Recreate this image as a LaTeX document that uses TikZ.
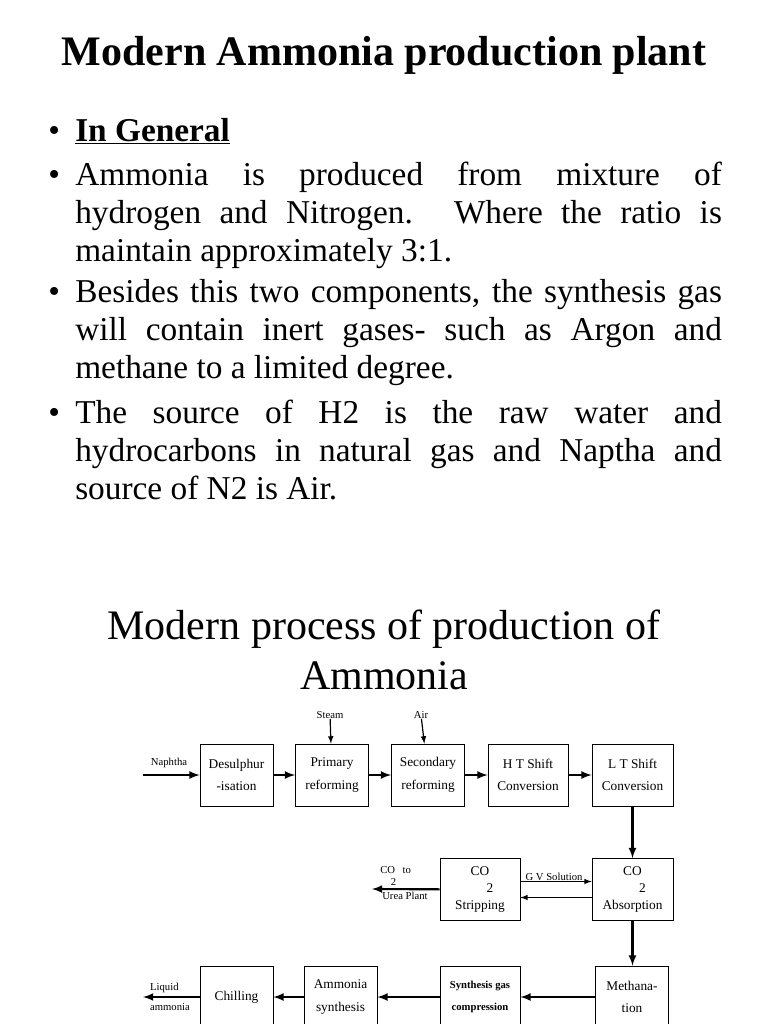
\documentclass[tikz,border=0pt]{standalone}
\usepackage{fontspec}
\setmainfont{Liberation Serif}
\begin{document}
\begin{tikzpicture}[x=0.75pt,y=-0.75pt,
  box/.style={draw,line width=0.6pt,minimum width=#1*0.75pt,minimum height=62*0.75pt,inner sep=0pt,font=\fontsize{10}{13}\selectfont,align=center},
  box/.default=73,
  lab/.style={font=\fontsize{8}{9}\selectfont,inner sep=0pt},
  arr/.style={-latex,line width=1.6pt}]
\useasboundingbox (0,0) rectangle (768,1024);
\node[font=\fontsize{31.5}{36}\selectfont\bfseries] (title) at (384,55) {Modern Ammonia production plant};
\begin{scope}[every node/.style={anchor=base west,inner sep=0pt,font=\fontsize{25}{28.5}\selectfont}]
\node (b1) at (48,141) {•};
\node (t1) at (75,141) {\underline{\textbf{In General}}};
\node (b2) at (48,185) {•};
\node (t2) at (75,185) {\parbox[t]{485pt}{\fontsize{25}{28.5}\selectfont\hyphenpenalty=10000 Ammonia is produced from mixture of\linebreak hydrogen and Nitrogen. Where the ratio is\linebreak maintain approximately 3:1.}};
\node (b3) at (48,302) {•};
\node (t3) at (75,302) {\parbox[t]{485pt}{\fontsize{25}{28.5}\selectfont\hyphenpenalty=10000 Besides this two components, the synthesis gas\linebreak will contain inert gases- such as Argon and\linebreak methane to a limited degree.}};
\node (b4) at (48,423) {•};
\node (t4) at (75,423) {\parbox[t]{485pt}{\fontsize{25}{28.5}\selectfont\hyphenpenalty=10000 The source of H2 is the raw water and\linebreak hydrocarbons in natural gas and Naptha and\linebreak source of N2 is Air.}};
\end{scope}
\node[font=\fontsize{31.5}{37}\selectfont,align=center] (sub) at (384,650) {Modern process of production of\\Ammonia};
\node[box] (des) at (236.5,775) {Desulphur\\[4pt]-isation};
\node[box] (pri) at (332,775) {Primary\\[4pt]reforming};
\node[box] (sec) at (428,775) {Secondary\\[4pt]reforming};
\node[box=80] (ht) at (528,775) {H T Shift\\[4pt]Conversion};
\node[box=81] (lt) at (632.5,775) {L T Shift\\[4pt]Conversion};
\node[box=80] (str) at (480,889.5) {CO\hspace{2em}\\\hspace{1.5em}2\\Stripping};
\node[box=81] (abs) at (632.5,889.5) {CO\hspace{2em}\\\hspace{1.5em}2\\Absorption};
\node[box] (chi) at (236.5,997) {Chilling};
\node[box] (ams) at (340.5,997) {Ammonia\\[4pt]synthesis};
\node[box=80,font=\fontsize{8}{13}\selectfont\bfseries] (syn) at (480,997) {Synthesis gas\\[4pt]compression};
\node[box] (met) at (632,997) {Methana-\\[4pt]tion};
\coordinate (nap) at (143,775);
\node[lab] (napl) at (169,763) {Naphtha};
\node[lab] (steam) at (330,715) {Steam};
\node[lab] (air) at (421,715) {Air};
\coordinate (co2) at (372,889);
\node[lab,align=left,anchor=west] (co2l) at (380,876) {CO\hspace{0.7em}to\\\hspace{1em}2};
\node[lab,anchor=north west] (urea) at (382,892) {Urea Plant};
\coordinate (liq) at (143,997);
\node[lab,align=left] (liql) at (170,997) {Liquid\\[6pt]ammonia};
\node[lab] (gv) at (554,877) {G V Solution};
\draw[arr] (nap) -- (des);
\draw[arr] (des) -- (pri);
\draw[arr] (pri) -- (sec);
\draw[arr] (sec) -- (ht);
\draw[arr] (ht) -- (lt);
\draw[-latex,line width=0.9pt] (steam) -- (pri);
\draw[-latex,line width=0.9pt] (air) -- (sec);
\draw[arr] (lt) -- (abs);
\draw[-latex,line width=0.9pt] ([yshift=6pt]str.east) -- ([yshift=6pt]abs.west);
\draw[-latex,line width=0.9pt] ([yshift=-6pt]abs.west) -- ([yshift=-6pt]str.east);
\draw[arr] (str) -- (co2);
\draw[arr] (abs) -- (abs.south |- met.north);
\draw[arr] (met) -- (syn);
\draw[arr] (syn) -- (ams);
\draw[arr] (ams) -- (chi);
\draw[arr] (chi) -- (liq);
\end{tikzpicture}
\end{document}
